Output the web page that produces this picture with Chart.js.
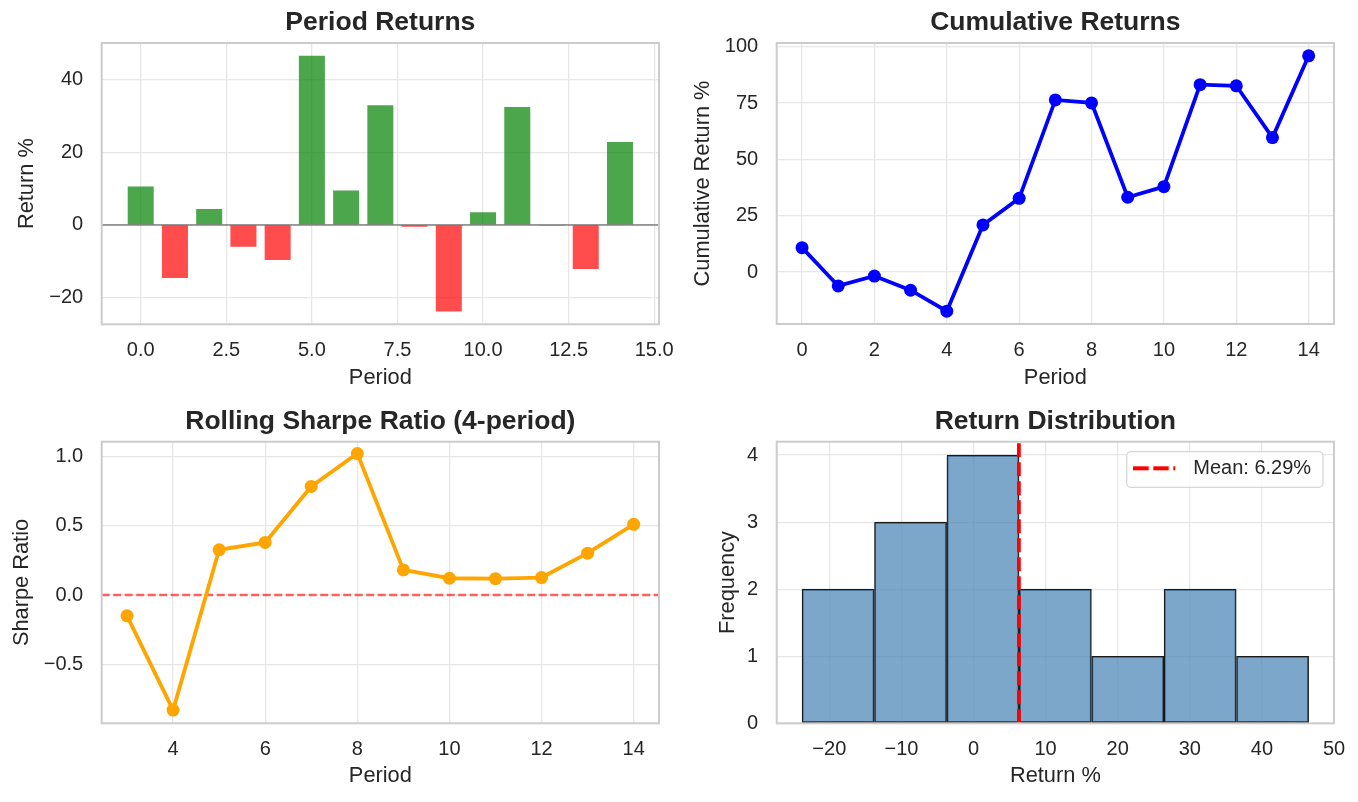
<!DOCTYPE html>
<html><head><meta charset="utf-8">
<script src="https://cdn.jsdelivr.net/npm/chart.js@4.4.1/dist/chart.umd.min.js"></script>
<style>
html,body{margin:0;padding:0;background:#fff;width:1358px;height:802px;overflow:hidden;}
canvas{position:absolute;display:block;}
</style></head><body>
<canvas id="c1" width="680" height="400" style="left:0px;top:0px"></canvas>
<canvas id="c2" width="678" height="400" style="left:680px;top:0px"></canvas>
<canvas id="c3" width="680" height="402" style="left:0px;top:400px"></canvas>
<canvas id="c4" width="678" height="402" style="left:680px;top:400px"></canvas>
<script>
// ---------------- data ----------------
const periods = [0,1,2,3,4,5,6,7,8,9,10,11,12,13,14];
const periodReturns = [10.6,-14.6,4.4,-6.0,-9.6,46.5,9.5,32.9,-0.5,-23.8,3.5,32.4,-0.2,-12.1,22.8];
const cumulativeReturns = [10.8,-6.2,-1.8,-8.1,-17.4,20.9,32.7,76.4,75.1,33.2,37.9,83.2,82.7,59.7,96.0];
const sharpePeriods = [3,4,5,6,7,8,9,10,11,12,13,14];
const rollingSharpe = [-0.15,-0.83,0.326,0.379,0.783,1.02,0.181,0.121,0.118,0.126,0.302,0.51];
const histBinEdges = [-23.8,-13.76,-3.71,6.33,16.37,26.41,36.46,46.5];
const histCounts = [2,3,4,2,1,2,1];
const meanReturn = 6.29;

// tick labels
const returnTicks = [-20,0,20,40];
const periodTicksFrac = [0,2.5,5,7.5,10,12.5,15];
const cumTicks = [0,25,50,75,100];
const periodTicks = [0,2,4,6,8,10,12,14];
const sharpeTicks = [-0.5,0,0.5,1.0];
const sharpePeriodTicks = [4,6,8,10,12,14];
const freqTicks = [0,1,2,3,4];
const histTicks = [-20,-10,0,10,20,30,40,50];

const titles = ['Period Returns','Cumulative Returns','Rolling Sharpe Ratio (4-period)','Return Distribution'];

// ---------------- style ----------------
const FONT = "'Liberation Sans', Arial, Helvetica, sans-serif";
const TXT = '#262626';
const GRID = '#e6e6e6';
Chart.defaults.font.family = FONT;
Chart.defaults.color = TXT;
const um = s => String(s).replace('-', '\u2212');

const framePlugin = {
  id: 'frame',
  afterDatasetsDraw(chart) {
    const {ctx, chartArea: a} = chart;
    ctx.save();
    ctx.strokeStyle = '#cccccc';
    ctx.lineWidth = 2;
    ctx.strokeRect(a.left, a.top, a.right - a.left, a.bottom - a.top);
    ctx.restore();
  }
};

function legendDashSample() {
  const c = document.createElement('canvas');
  c.width = 50; c.height = 8;
  const g = c.getContext('2d');
  g.strokeStyle = '#ff0000';
  g.lineWidth = 4;
  g.setLineDash([15.5, 4.5]);
  g.beginPath(); g.moveTo(0, 4); g.lineTo(42, 4); g.stroke();
  return c;
}

const legendPlace = {
  id: 'legendPlace',
  afterUpdate(chart) {
    const lg = chart.legend;
    if (!lg || !lg.options.display) return;
    const a = chart.chartArea;
    lg.left = a.right - 210.7; lg.top = a.top + 6.6;
    lg.right = a.right; lg.bottom = lg.top + 60;
    lg.width = lg.right - lg.left; lg.height = 60;
    if (!lg._boxWrapped) {
      const orig = lg.draw;
      lg.draw = function() {
        const c = chart.ctx, ar = chart.chartArea;
        c.save();
        c.beginPath();
        c.roundRect(ar.right - 207.3, ar.top + 10, 196.3, 35.6, 4);
        c.fillStyle = 'rgba(255,255,255,0.8)';
        c.fill();
        c.strokeStyle = 'rgba(204,204,204,0.8)';
        c.lineWidth = 1.3;
        c.stroke();
        c.restore();
        orig.apply(this, arguments);
      };
      lg._boxWrapped = true;
    }
  }
};

function opts(p) {
  return {
    responsive: false,
    animation: false,
    events: [],
    layout: {autoPadding: false, padding: {left: 0, top: 0, right: p.padRight, bottom: 0}},
    plugins: {
      legend: p.legend || {display: false},
      tooltip: {enabled: false},
      title: {
        display: true, text: p.title, color: TXT, fullSize: false,
        font: {size: 26.5, weight: 'bold', family: FONT},
        padding: {top: p.titleTop, bottom: p.titleBottom}
      }
    },
    scales: {
      x: {
        type: 'linear', position: 'bottom', min: p.xMin, max: p.xMax, offset: false,
        grid: {color: GRID, lineWidth: 1.3, drawTicks: false, offset: false},
        border: {display: false},
        ticks: {padding: 14.5, color: TXT, font: {size: 20}, maxRotation: 0, autoSkip: false, callback: p.xFmt},
        afterBuildTicks(s) { s.ticks = p.xTicks.map(v => ({value: v})); },
        title: {display: true, text: p.xTitle, color: TXT, font: {size: 21.8},
                padding: {top: 0, bottom: p.xTitlePad}},
        afterFit(s) { s.height = p.xHeight; s.paddingLeft = 0; s.paddingRight = 0; }
      },
      y: {
        type: 'linear', position: 'left', min: p.yMin, max: p.yMax,
        grid: {color: GRID, lineWidth: 1.3, drawTicks: false},
        border: {display: false},
        ticks: {padding: 18.5, color: TXT, font: {size: 20}, callback: p.yFmt},
        afterBuildTicks(s) { s.ticks = p.yTicks.map(v => ({value: v})); },
        title: {display: true, text: p.yTitle, color: TXT, font: {size: 21.8},
                padding: {top: p.yTitlePad, bottom: 0}},
        afterFit(s) { s.width = p.yWidth; s.paddingTop = 0; s.paddingBottom = 0; }
      }
    }
  };
}

// ---------------- chart 1: period returns ----------------
new Chart(document.getElementById('c1'), {
  type: 'bar',
  data: {
    datasets: [
      {type: 'line', label: 'zero', data: [{x: -1.14, y: 0}, {x: 15.14, y: 0}],
       borderColor: 'rgba(0,0,0,0.35)', borderWidth: 2, pointRadius: 0, order: 0},
      {type: 'bar', label: 'Return', data: periods.map((p, i) => ({x: p, y: periodReturns[i]})),
       backgroundColor: periodReturns.map(v => v >= 0 ? 'rgba(0,128,0,0.7)' : 'rgba(255,0,0,0.7)'),
       borderWidth: 0, barPercentage: 0.76, categoryPercentage: 1, order: 1}
    ]
  },
  options: opts({
    title: titles[0], titleTop: 7.1, titleBottom: 4.1, padRight: 21,
    xMin: -1.14, xMax: 15.14, xTicks: periodTicksFrac, xFmt: v => v.toFixed(1), xTitle: 'Period', xTitlePad: 8.9, xHeight: 75.7,
    yMin: -27.3, yMax: 50.0, yTicks: returnTicks, yFmt: v => um(v), yTitle: 'Return %', yTitlePad: 14.4, yWidth: 101.7
  }),
  plugins: [framePlugin]
});

// ---------------- chart 2: cumulative ----------------
new Chart(document.getElementById('c2'), {
  type: 'line',
  data: {
    datasets: [
      {label: 'Cumulative', data: periods.map((p, i) => ({x: p, y: cumulativeReturns[i]})),
       borderColor: '#0000ff', backgroundColor: '#0000ff', borderWidth: 3.8,
       pointRadius: 6.5, pointBorderWidth: 0, pointBackgroundColor: '#0000ff', tension: 0}
    ]
  },
  options: opts({
    title: titles[1], titleTop: 7.1, titleBottom: 4.1, padRight: 24,
    xMin: -0.7, xMax: 14.7, xTicks: periodTicks, xFmt: v => um(v), xTitle: 'Period', xTitlePad: 8.9, xHeight: 76,
    yMin: -23.1, yMax: 101.7, yTicks: cumTicks, yFmt: v => um(v), yTitle: 'Cumulative Return %', yTitlePad: 10.2, yWidth: 96.7
  }),
  plugins: [framePlugin]
});

// ---------------- chart 3: rolling sharpe ----------------
new Chart(document.getElementById('c3'), {
  type: 'line',
  data: {
    datasets: [
      {label: 'Sharpe', data: sharpePeriods.map((p, i) => ({x: p, y: rollingSharpe[i]})),
       borderColor: '#ffa500', backgroundColor: '#ffa500', borderWidth: 3.8,
       pointRadius: 6.5, pointBorderWidth: 0, pointBackgroundColor: '#ffa500', tension: 0, order: 0},
      {label: 'zero', data: [{x: 2.45, y: 0}, {x: 14.55, y: 0}],
       borderColor: 'rgba(255,0,0,0.6)', borderWidth: 2.6, borderDash: [8, 3.5], pointRadius: 0, order: 1}
    ]
  },
  options: opts({
    title: titles[2], titleTop: 5.8, titleBottom: 4.1, padRight: 21,
    xMin: 2.45, xMax: 14.55, xTicks: sharpePeriodTicks, xFmt: v => um(v), xTitle: 'Period', xTitlePad: 12.9, xHeight: 78.7,
    yMin: -0.925, yMax: 1.1055, yTicks: sharpeTicks, yFmt: v => um(v.toFixed(1)), yTitle: 'Sharpe Ratio', yTitlePad: 8.6, yWidth: 101.7
  }),
  plugins: [framePlugin]
});

// ---------------- chart 4: distribution ----------------
const binCenters = histCounts.map((c, i) => (histBinEdges[i] + histBinEdges[i + 1]) / 2);
new Chart(document.getElementById('c4'), {
  type: 'bar',
  data: {
    datasets: [
      {type: 'line', label: 'Mean: ' + meanReturn.toFixed(2) + '%',
       data: [{x: meanReturn, y: 0}, {x: meanReturn, y: 4.2}],
       borderColor: '#ff0000', backgroundColor: '#ff0000', borderWidth: 3.8, borderDash: [14, 5],
       pointRadius: 0, order: 0},
      {type: 'bar', label: 'Frequency', data: binCenters.map((x, i) => ({x: x, y: histCounts[i]})),
       backgroundColor: 'rgba(70,130,180,0.7)', borderColor: '#1a1a1a', borderWidth: 1.2,
       borderSkipped: false, barPercentage: 1, categoryPercentage: 1, order: 1}
    ]
  },
  options: opts({
    title: titles[3], titleTop: 5.8, titleBottom: 4.1, padRight: 24,
    xMin: -27.3, xMax: 50.0, xTicks: histTicks, xFmt: v => um(v), xTitle: 'Return %', xTitlePad: 12.9, xHeight: 78.7,
    yMin: 0, yMax: 4.2, yTicks: freqTicks, yFmt: v => um(v), yTitle: 'Frequency', yTitlePad: 34.9, yWidth: 96.7,
    legend: {
      display: true, position: 'chartArea', align: 'start',
      labels: {
        filter: item => item.datasetIndex === 0,
        usePointStyle: true, pointStyle: legendDashSample(), pointStyleWidth: 50,
        font: {size: 20}, color: TXT, padding: 10
      }
    }
  }),
  plugins: [framePlugin, legendPlace]
});
</script>
</body></html>
